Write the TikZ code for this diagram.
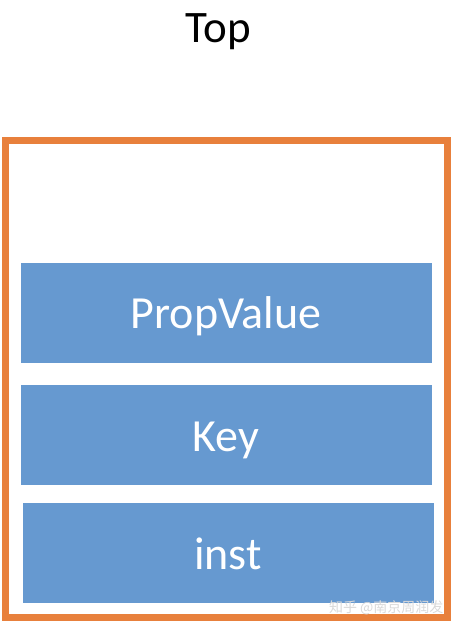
\documentclass[tikz,border=0pt]{standalone}
\usepackage{fontspec}
\setmainfont{Carlito}
\newfontfamily\cjkfont{Noto Sans CJK SC}
\definecolor{frameorange}{RGB}{232,128,60}
\definecolor{boxblue}{RGB}{102,153,208}

\begin{document}
\begin{tikzpicture}[x=1pt, y=-1pt,
    field/.style={fill=boxblue, draw=none, minimum width=411pt, minimum height=100pt,
                  inner sep=0pt, text=white, text height=32pt, text depth=0pt,
                  font=\fontsize{46}{52}\selectfont}]
            \useasboundingbox (0,0) rectangle (458,628);

            \node[anchor=base, font=\fontsize{45}{52}\selectfont] (top) at (218,43) {Top};

            \draw[frameorange, line width=7pt] (5.5,140.5) rectangle (447.5,617);

            \node[field] (prop) at (226,312.5) {PropValue};
            \node[field] (key) at (226,435) {Key};
            \node[field] (inst) at (228,553) {inst};

            \node[anchor=east, text=white!85!black, font=\cjkfont\fontsize{14}{16}\selectfont] (mark) at (447,608) {知乎 @南京周润发};
        \end{tikzpicture}
\end{document}
